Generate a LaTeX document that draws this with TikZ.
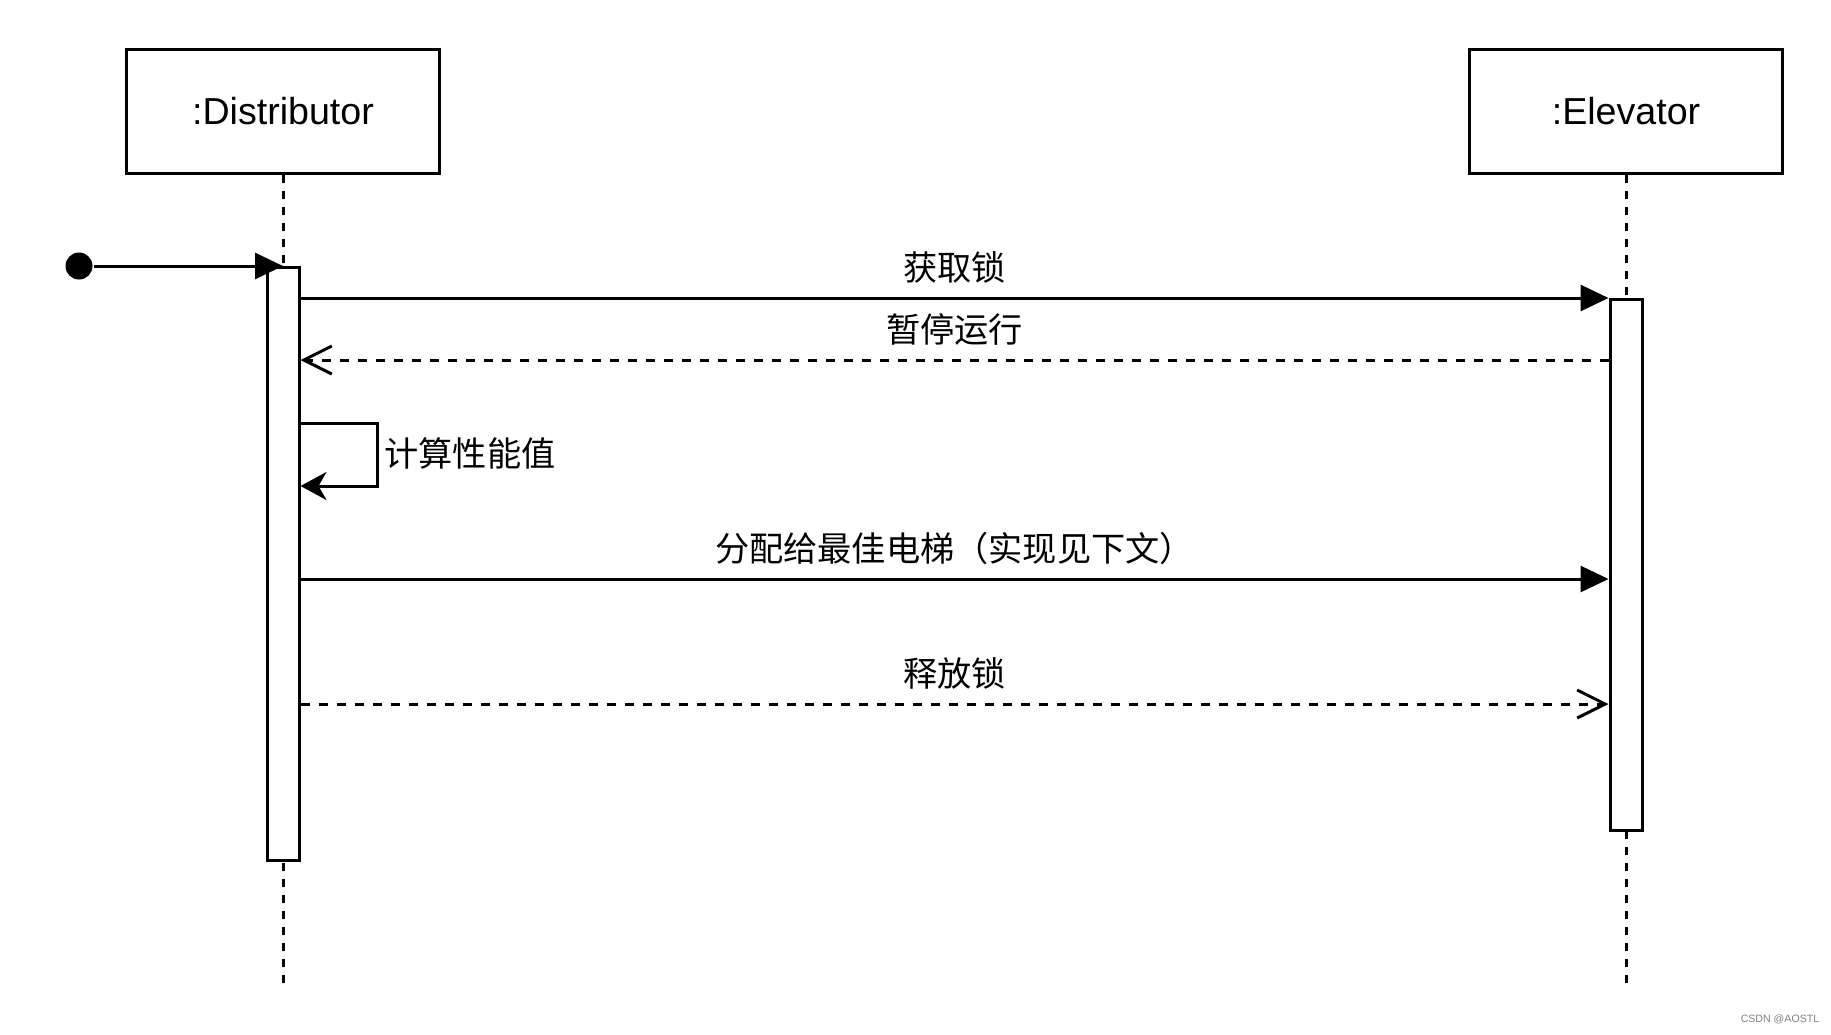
\documentclass[tikz,border=0pt]{standalone}
\usepackage{fontspec}
\setmainfont{Liberation Sans}
\newfontfamily\cjk{Noto Sans CJK SC}
\usetikzlibrary{arrows.meta}
\begin{document}
\begin{tikzpicture}[x=0.5pt,y=-0.5pt,line width=1.5pt,
  obj/.style={draw,minimum width=156.5pt,minimum height=62pt,inner sep=0pt,font=\fontsize{18.8}{22}\selectfont},
  act/.style={draw,fill=white,minimum width=16pt,inner sep=0pt,anchor=north},
  lifeline/.style={dash pattern=on 4pt off 4pt},
  msg/.style={-{Triangle[length=14pt,width=13pt]}},
  reply/.style={dash pattern=on 4.5pt off 4.5pt,-{Straight Barb[length=14pt,width=14pt,line width=1.5pt]}},
  selfmsg/.style={-{Stealth[length=13pt,width=14pt,inset=4pt]}},
  lbl/.style={font=\cjk\fontsize{17.1}{20}\selectfont,inner sep=0pt}]
\useasboundingbox (0,0) rectangle (1831,1034);
% objects
\node[obj] (dist) at (283,111) {:Distributor};
\node[obj] (elev) at (1626,111) {:Elevator};
\coordinate (dend) at (283,984);
\coordinate (eend) at (1626,984);
\draw[lifeline] (dist.south) -- (dend);
\draw[lifeline] (elev.south) -- (eend);
% activations
\node[act,minimum height=296.5pt] (da) at (283,266) {};
\node[act,minimum height=265.5pt] (ea) at (1626,298) {};
% start
\node[circle,fill,minimum size=13.5pt,inner sep=0pt] (start) at (79,266) {};
\draw[msg] (start) -- (da.north);
% y levels
\coordinate (y1) at (0,298);
\coordinate (y2) at (0,360);
\coordinate (s1) at (0,423);
\coordinate (s2) at (0,486);
\coordinate (selfR) at (377,423);
\coordinate (y4) at (0,579);
\coordinate (y5) at (0,704);
% messages
\draw[msg] (da.east |- y1) -- node[lbl,midway,yshift=15.5pt] (l1) {获取锁} (ea.west |- y1);
\draw[reply] (ea.west |- y2) -- node[lbl,midway,yshift=15.5pt] (l2) {暂停运行} (da.east |- y2);
\draw[selfmsg] (da.east |- s1) -- (selfR) |- (da.east |- s2);
\node[lbl,anchor=west] (l3) at (383,453) {计算性能值};
\draw[msg] (da.east |- y4) -- node[lbl,midway,yshift=15.5pt] (l4) {分配给最佳电梯（实现见下文）} (ea.west |- y4);
\draw[reply] (da.east |- y5) -- node[lbl,midway,yshift=15.5pt] (l5) {释放锁} (ea.west |- y5);
% watermark
\node[font=\fontsize{5.3}{6}\selectfont,text=gray,inner sep=0pt] (wm) at (1780,1019) {CSDN @AOSTL};
\end{tikzpicture}
\end{document}
